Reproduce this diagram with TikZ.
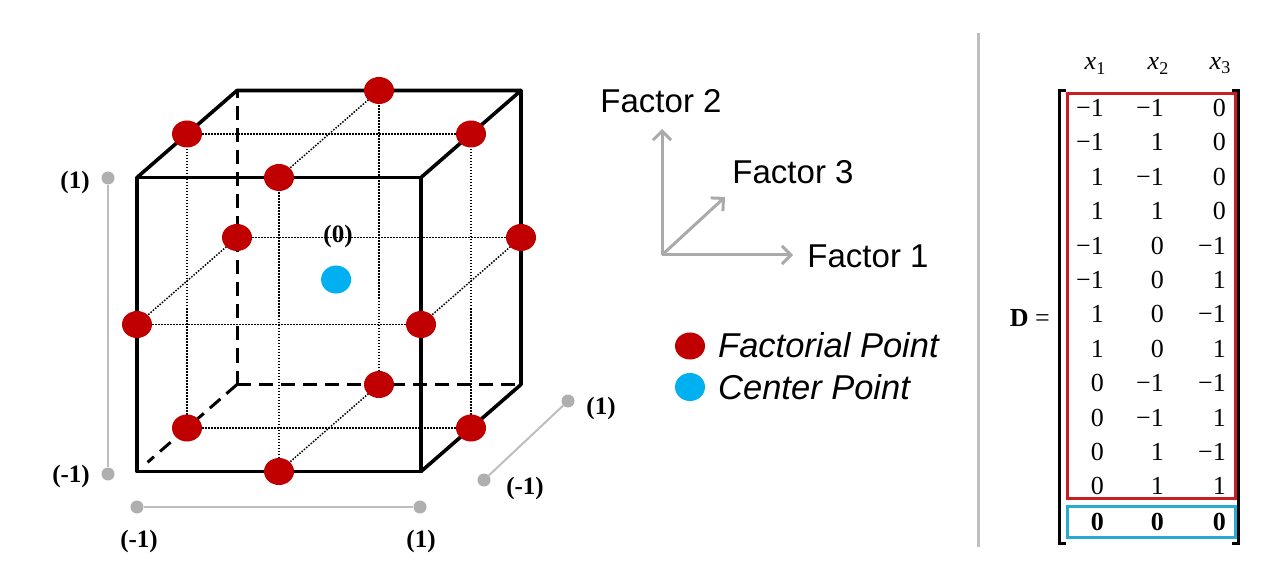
\documentclass[tikz,border=0pt]{standalone}
\usepackage{fontspec}
\setmainfont{Liberation Serif}
\newfontfamily\arialfont{Liberation Sans}
\usetikzlibrary{arrows.meta,shapes.geometric}
\definecolor{fred}{RGB}{192,0,0}
\definecolor{cblue}{RGB}{0,176,240}
\definecolor{gdotc}{RGB}{175,175,175}
\definecolor{glinec}{RGB}{190,190,190}
\definecolor{axc}{RGB}{170,170,170}
\definecolor{boxred}{RGB}{200,30,35}
\definecolor{boxblue}{RGB}{40,170,210}
\tikzset{
  fdot/.style={ellipse,fill=fred,draw=none,minimum width=30pt,minimum height=27pt,inner sep=0pt},
  cdot/.style={ellipse,fill=cblue,draw=none,minimum width=30pt,minimum height=28pt,inner sep=0pt},
  gdot/.style={circle,fill=gdotc,draw=none,minimum size=13pt,inner sep=0pt},
  gline/.style={draw=glinec,line width=2pt},
  edge3/.style={line width=3.6pt,line cap=round,line join=round},
  hidden/.style={line width=3pt,dash pattern=on 14pt off 8pt},
  dots/.style={line width=1.5pt,dash pattern=on 1.5pt off 1.5pt},
  lab/.style={font=\fontsize{25}{25}\selectfont\bfseries,inner sep=0pt},
  sans/.style={font=\arialfont\fontsize{33}{33}\selectfont,inner sep=0pt},
  isans/.style={font=\arialfont\fontsize{34.5}{34.5}\selectfont\itshape,inner sep=0pt,anchor=west},
  axarr/.style={draw=axc,line width=3pt,-{Straight Barb[length=9pt,width=18pt,line width=3pt]}},
  num/.style={font=\fontsize{26}{26}\selectfont,anchor=east,inner sep=0pt},
  bnum/.style={font=\fontsize{26}{26}\selectfont\bfseries,anchor=east,inner sep=0pt},
  brk/.style={line width=3pt},
}
\begin{document}
\begin{tikzpicture}[x=1pt,y=-1pt]
\useasboundingbox[fill=white] (0,0) rectangle (1280,585);

% ---------- cube ----------
\begin{scope}[shift={(329pt,-281pt)},x={(142pt,0pt)},y={(0pt,147pt)},z={(50pt,43.5pt)}]
  \coordinate (ftl) at (-1,1,-1);  \coordinate (ftr) at (1,1,-1);
  \coordinate (fbl) at (-1,-1,-1); \coordinate (fbr) at (1,-1,-1);
  \coordinate (btl) at (-1,1,1);   \coordinate (btr) at (1,1,1);
  \coordinate (bbl) at (-1,-1,1);  \coordinate (bbr) at (1,-1,1);
  \coordinate (tf) at (0,1,-1);  \coordinate (tb) at (0,1,1);
  \coordinate (tl) at (-1,1,0);  \coordinate (tr) at (1,1,0);
  \coordinate (mfl) at (-1,0,-1); \coordinate (mfr) at (1,0,-1);
  \coordinate (mbl) at (-1,0,1);  \coordinate (mbr) at (1,0,1);
  \coordinate (bf) at (0,-1,-1); \coordinate (bb) at (0,-1,1);
  \coordinate (bl) at (-1,-1,0); \coordinate (br) at (1,-1,0);
  \coordinate (cc) at (0.05,0.01,0);
\end{scope}

% dotted grid
\draw[dots] (tl) -- (tr);  \draw[dots] (tf) -- (tb);
\draw[dots] (tf) -- (bf);  \draw[dots] (tb) -- (bb);
\draw[dots] (tl) -- (bl);  \draw[dots] (tr) -- (br);
\draw[dots] (mbl) -- (mbr); \draw[dots] (mfl) -- (mfr);
\draw[dots] (mfl) -- (mbl); \draw[dots] (mfr) -- (mbr);
\draw[dots] (bl) -- (br);  \draw[dots] (bf) -- (bb);

% hidden edges
\draw[hidden] (bbl) -- (btl);
\draw[hidden] (bbl) -- (bbr);
\draw[hidden,shorten >=14pt] (bbl) -- (fbl);

% visible edges
\draw[edge3] (ftl) -- (ftr) -- (fbr) -- (fbl) -- cycle;
\draw[edge3] (ftl) -- (btl) -- (btr) -- (ftr);
\draw[edge3] (btr) -- (bbr) -- (fbr);

% factorial points
\foreach \p in {tf,tb,tl,tr,mfl,mfr,mbl,mbr,bf,bb,bl,br}
  \node[fdot] (d-\p) at (\p) {};
% center point
\node[cdot] (center) at (cc) {};
\node[lab] (zero) at (338,236) {(0)};

% ---------- scales ----------
\node[gdot] (v1) at (108,178) {};
\node[gdot] (v0) at (108,474) {};
\draw[gline] (v1) -- (v0);
\node[lab] (v1l) at (75,182) {(1)};
\node[lab] (v0l) at (71,476) {(-1)};

\node[gdot] (h0) at (137,507) {};
\node[gdot] (h1) at (420,507) {};
\draw[gline] (h0) -- (h1);
\node[lab] (h0l) at (139,541) {(-1)};
\node[lab] (h1l) at (421,541) {(1)};

\node[gdot] (z0) at (484,480) {};
\node[gdot] (z1) at (568,401) {};
\draw[gline] (z0) -- (z1);
\node[lab] (z0l) at (525,488) {(-1)};
\node[lab] (z1l) at (601,408) {(1)};

% ---------- factor axes ----------
\coordinate (o) at (662,255);
\coordinate (a1) at (793,255);
\coordinate (a2) at (662,129);
\coordinate (a3) at (725,197);
\draw[axarr] (o) -- (a1);
\draw[axarr] (o) -- (a2);
\draw[axarr] (o) -- (a3);
\node[sans] (f2) at (661,101) {Factor 2};
\node[sans] (f3) at (793,172) {Factor 3};
\node[sans] (f1) at (868,256) {Factor 1};

% ---------- legend ----------
\node[fdot] (lf) at (690,346) {};
\node[isans] (lft) at (718,345) {Factorial Point};
\node[cdot] (lc) at (690,387) {};
\node[isans] (lct) at (718,387) {Center Point};

% ---------- separator ----------
\draw[draw=glinec,line width=3pt] (978,33) -- (978,547);

% ---------- matrix ----------
\node[font=\fontsize{26}{26}\selectfont,anchor=east,inner sep=0pt] (dlab) at (1050,318) {\textbf{D} =};
\node[font=\fontsize{26}{26}\selectfont,inner sep=0pt] (x1) at (1095,66) {\textit{x}\raisebox{-0.35ex}{\fontsize{18}{18}\selectfont 1}};
\node[font=\fontsize{26}{26}\selectfont,inner sep=0pt] (x2) at (1158,66) {\textit{x}\raisebox{-0.35ex}{\fontsize{18}{18}\selectfont 2}};
\node[font=\fontsize{26}{26}\selectfont,inner sep=0pt] (x3) at (1220,66) {\textit{x}\raisebox{-0.35ex}{\fontsize{18}{18}\selectfont 3}};

\foreach \a/\b/\c [count=\i] in {−1/−1/0,−1/1/0,1/−1/0,1/1/0,−1/0/−1,−1/0/1,1/0/−1,1/0/1,0/−1/−1,0/−1/1,0/1/−1,0/1/1}{
  \pgfmathsetmacro{\yy}{108+(\i-1)*34.4}
  \node[num] (m-\i-1) at (1104,\yy) {\a};
  \node[num] (m-\i-2) at (1164,\yy) {\b};
  \node[num] (m-\i-3) at (1226,\yy) {\c};
}
\node[bnum] (c-1) at (1104,522) {0};
\node[bnum] (c-2) at (1164,522) {0};
\node[bnum] (c-3) at (1226,522) {0};

\draw[draw=boxred,line width=3pt] (1067,94) rectangle (1235,498);
\draw[draw=boxblue,line width=3pt] (1067,506) rectangle (1235,537);

\draw[brk] (1066,91) -- (1059.5,91) -- (1059.5,543) -- (1066,543);
\draw[brk] (1232,91) -- (1238.5,91) -- (1238.5,543) -- (1232,543);
\end{tikzpicture}
\end{document}
